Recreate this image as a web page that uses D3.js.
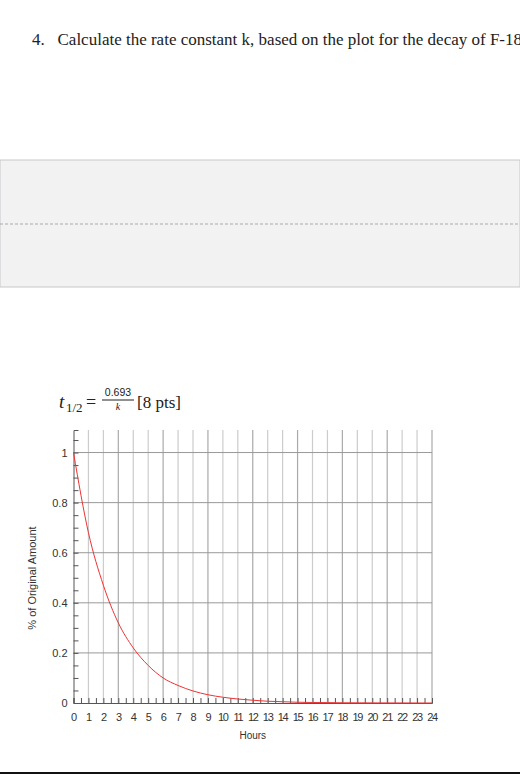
<!DOCTYPE html>
<html><head><meta charset="utf-8">
<script src="https://cdn.jsdelivr.net/npm/d3@7"></script>
<style>
body{margin:0;background:#fff;}
svg{display:block;}
</style></head>
<body>
<script>
const hours = [0,1,2,3,4,5,6,7,8,9,10,11,12,13,14,15,16,17,18,19,20,21,22,23,24];
const fraction = [1,0.68,0.47,0.32,0.22,0.15,0.10,0.07,0.048,0.033,0.023,0.016,0.011,0.007,0.005,0.003,0.002,0.0015,0.001,0.0007,0.0005,0.0003,0.0002,0.0001,0.0001];
const yTicks = [0,0.2,0.4,0.6,0.8,1];
const yTickLabels = ["0","0.2","0.4","0.6","0.8","1"];

const W = 520, H = 776;
const svg = d3.select("body").append("svg").attr("width", W).attr("height", H);

svg.append("text").attr("x", 32).attr("y", 45)
  .attr("font-family", "Liberation Serif, serif").attr("font-size", 17).attr("fill", "#222")
  .attr("xml:space", "preserve")
  .text("4.   Calculate the rate constant k, based on the plot for the decay of F-18.");

// answer box
svg.append("rect").attr("x", 0).attr("y", 160).attr("width", W).attr("height", 127)
  .attr("fill", "#f2f2f3").attr("stroke", "#c8c8cc");
svg.append("line").attr("x1", 0).attr("x2", W).attr("y1", 224).attr("y2", 224)
  .attr("stroke", "#aaa").attr("stroke-dasharray", "3,2");

// formula
const f = svg.append("g").attr("font-family", "Liberation Serif, serif").attr("fill", "#222");
f.append("text").attr("x", 59).attr("y", 408).attr("font-size", 19).attr("font-style", "italic").text("t");
f.append("text").attr("x", 66).attr("y", 412).attr("font-size", 13).text("1/2");
f.append("text").attr("x", 86).attr("y", 408).attr("font-size", 18).text("=");
f.append("text").attr("x", 118).attr("y", 396).attr("font-size", 10.5).attr("text-anchor", "middle")
  .attr("font-family", "Liberation Sans, sans-serif").text("0.693");
f.append("line").attr("x1", 102).attr("x2", 134).attr("y1", 400).attr("y2", 400).attr("stroke", "#222");
f.append("text").attr("x", 118).attr("y", 410).attr("font-size", 10).attr("font-style", "italic").attr("text-anchor", "middle").text("k");
f.append("text").attr("x", 137).attr("y", 408).attr("font-size", 17).text("[8 pts]");

const x = d3.scaleLinear().domain([0, 24]).range([73.5, 432]);
const y = d3.scaleLinear().domain([0, 1.09]).range([703, 430]);

// vertical grid
svg.append("g").selectAll("line").data(hours.slice(1)).join("line")
  .attr("x1", d => x(d)).attr("x2", d => x(d)).attr("y1", y(1.09)).attr("y2", y(0))
  .attr("stroke", (d, i) => i % 3 === 2 ? "#aaa" : "#ccc").attr("stroke-width", 1.2);
// horizontal grid
svg.append("g").selectAll("line").data(yTicks.slice(1)).join("line")
  .attr("x1", x(0)).attr("x2", x(24)).attr("y1", d => y(d)).attr("y2", d => y(d))
  .attr("stroke", "#999").attr("stroke-width", 1);

const tickFont = "Liberation Sans, Arial, sans-serif";
svg.append("g").attr("transform", `translate(${x(0)},0)`)
  .call(d3.axisLeft(y).tickValues(d3.range(0, 1.09, 0.05)).tickSize(-5).tickFormat(""))
  .call(g => g.select(".domain").attr("stroke", "#555"))
  .call(g => g.selectAll(".tick line").attr("stroke", "#555"));
svg.append("g").selectAll("text").data(yTicks).join("text")
  .attr("x", x(0) - 6).attr("y", d => y(d) + 4).attr("text-anchor", "end")
  .attr("font-family", tickFont).attr("font-size", 11).attr("fill", "#333")
  .text((d, i) => yTickLabels[i]);

svg.append("g").attr("transform", `translate(0,${y(0)})`)
  .call(d3.axisBottom(x).tickValues(d3.range(0, 24.01, 0.5)).tickSize(-5).tickFormat(""))
  .call(g => g.select(".domain").attr("stroke", "#555"))
  .call(g => g.selectAll(".tick line").attr("stroke", "#555"));
svg.append("g").selectAll("text").data(hours).join("text")
  .attr("x", d => x(d)).attr("y", y(0) + 18).attr("text-anchor", "middle")
  .attr("font-family", tickFont).attr("font-size", 11).attr("fill", "#333")
  .attr("letter-spacing", -1.3).text(d => d);

svg.append("text").attr("x", x(12)).attr("y", 739).attr("text-anchor", "middle")
  .attr("font-family", tickFont).attr("font-size", 10).attr("fill", "#333").text("Hours");
svg.append("text").attr("transform", `translate(36,578) rotate(-90)`).attr("text-anchor", "middle")
  .attr("font-family", tickFont).attr("font-size", 11).attr("fill", "#333").text("% of Original Amount");

svg.append("path").datum(hours.map((h, i) => [h, fraction[i]]))
  .attr("fill", "none").attr("stroke", "#e33").attr("stroke-width", 1)
  .attr("d", d3.line().x(d => x(d[0])).y(d => y(d[1])).curve(d3.curveMonotoneX));

svg.append("line").attr("x1", 0).attr("x2", W).attr("y1", 773).attr("y2", 773).attr("stroke", "#111").attr("stroke-width", 2);
</script>
</body></html>
